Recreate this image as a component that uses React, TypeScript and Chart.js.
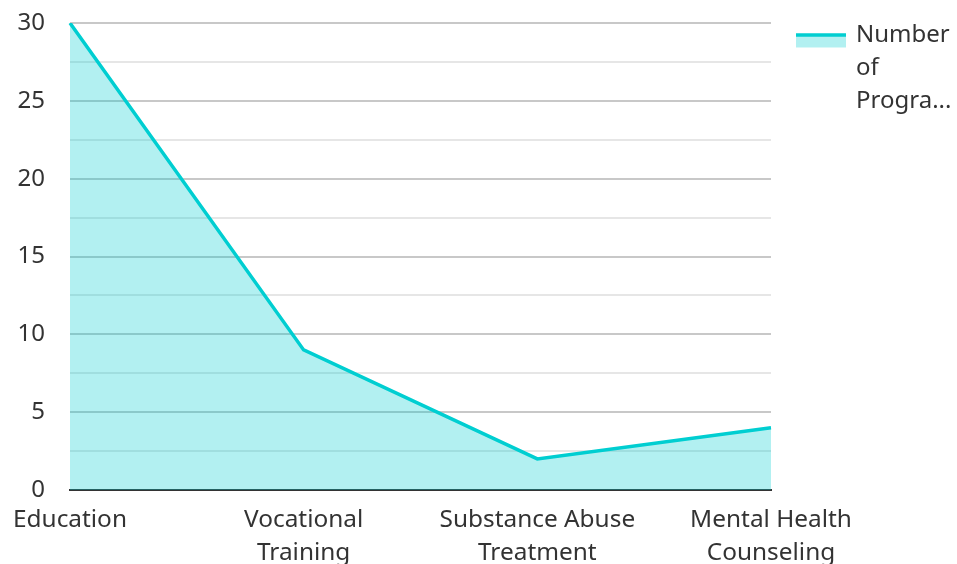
import React, { useEffect, useRef } from "react";
import { Chart, registerables } from "chart.js";

Chart.register(...registerables);

const categories: string[][] = [
  ["Education"],
  ["Vocational", "Training"],
  ["Substance Abuse", "Treatment"],
  ["Mental Health", "Counseling"],
];
const programCounts: number[] = [30, 9, 2, 4];
const seriesName = "Number of Programs";
const legendLines: string[] = ["Number", "of", "Progra..."];

const LINE = "rgb(0,206,209)";
const FILL = "rgba(0,206,209,0.3)";
const TEXT = "#333333";
const FONT = "'Noto Sans', 'Open Sans', sans-serif";

const W = 957;
const H = 564;

export default function App() {
  const ref = useRef<HTMLCanvasElement | null>(null);

  useEffect(() => {
    if (!ref.current) return;
    Chart.defaults.font.family = FONT;
    Chart.defaults.font.size = 24;
    Chart.defaults.color = TEXT;

    const legendPlugin = {
      id: "customLegend",
      afterDraw(chart: any) {
        const ctx = chart.ctx as CanvasRenderingContext2D;
        const x0 = chart.chartArea.right + 25;
        const y0 = 35;
        ctx.save();
        ctx.fillStyle = FILL;
        ctx.fillRect(x0, y0, 50, 12.5);
        ctx.strokeStyle = LINE;
        ctx.lineWidth = 3.5;
        ctx.beginPath();
        ctx.moveTo(x0, y0);
        ctx.lineTo(x0 + 50, y0);
        ctx.stroke();
        ctx.fillStyle = TEXT;
        ctx.font = `24px ${FONT}`;
        ctx.textBaseline = "middle";
        ctx.textAlign = "left";
        legendLines.forEach((t, i) => ctx.fillText(t, x0 + 60, y0 + i * 33));
        ctx.restore();
      },
    };

    const chart = new Chart(ref.current, {
      type: "line",
      data: {
        labels: categories,
        datasets: [
          {
            label: seriesName,
            data: programCounts,
            borderColor: LINE,
            backgroundColor: FILL,
            borderWidth: 3.5,
            fill: "origin",
            pointRadius: 0,
            pointHoverRadius: 0,
            tension: 0,
          },
        ],
      },
      options: {
        responsive: false,
        animation: false,
        layout: { padding: { top: 23, right: 186, left: 0, bottom: 0 } },
        plugins: {
          legend: { display: false },
          tooltip: { enabled: false },
        },
        scales: {
          x: {
            offset: false,
            grid: { display: false, drawTicks: false },
            border: { display: true, color: "#333333", width: 2 },
            ticks: {
              autoSkip: false,
              maxRotation: 0,
              minRotation: 0,
              padding: 13,
              font: { size: 24.4, lineHeight: 1.36 },
              color: TEXT,
            },
            afterFit: (s: any) => {
              s.height = 74;
            },
          },
          y: {
            min: 0,
            max: 30,
            border: { display: false },
            grid: {
              drawTicks: false,
              color: (c: any) =>
                c.tick && c.tick.value % 5 === 0 ? "#c8c8c8" : "#e6e6e6",
              lineWidth: 2,
            },
            ticks: {
              stepSize: 2.5,
              padding: 25,
              font: { size: 24 },
              color: TEXT,
              callback: (v: any) => (Number(v) % 5 === 0 ? String(v) : ""),
            },
            afterFit: (s: any) => {
              s.width = 69;
              s.paddingTop = 0;
              s.paddingBottom = 0;
            },
          },
        },
      },
      plugins: [legendPlugin],
    });
    return () => chart.destroy();
  }, []);

  return (
    <div style={{ position: "absolute", left: 0, top: 0, width: W, height: H }}>
      <canvas ref={ref} width={W} height={H} />
    </div>
  );
}
